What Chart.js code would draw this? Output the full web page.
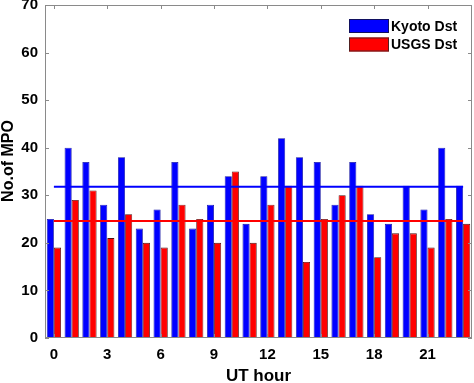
<!DOCTYPE html>
<html>
<head>
<meta charset="utf-8">
<script src="https://cdn.jsdelivr.net/npm/chart.js@4"></script>
<style>
  html, body { margin: 0; padding: 0; background: #fff; }
  #wrap { width: 474px; height: 383px; }
</style>
</head>
<body>
<div id="wrap"><canvas id="c" width="474" height="383"></canvas></div>
<script>
// ---- data ----
const hours = ['0','1','2','3','4','5','6','7','8','9','10','11','12','13','14','15','16','17','18','19','20','21','22','23'];
const xTickLabels = ['0','3','6','9','12','15','18','21'];
const yTicks = [0, 10, 20, 30, 40, 50, 60, 70];
const kyotoDst = [25, 40, 37, 28, 38, 23, 27, 37, 23, 28, 34, 24, 34, 42, 38, 37, 28, 37, 26, 24, 32, 27, 40, 32];
const usgsDst  = [19, 29, 31, 21, 26, 20, 19, 28, 25, 20, 35, 20, 28, 32, 16, 25, 30, 32, 17, 22, 22, 19, 25, 24];
const kyotoMean = 31.8;
const usgsMean = 24.6;
const seriesNames = ['Kyoto Dst', 'USGS Dst'];
const yTitle = 'No.of MPO';
const xTitle = 'UT hour';
// ----------------------------------------------

const FONT = '"Liberation Sans", Arial, sans-serif';
const AXIS_GRAY = '#8a8a8a';
const BLUE = '#0000ff';
const RED = '#ff0000';

const frame = {
  id: 'frame',
  afterDatasetsDraw(chart) {
    const { ctx, chartArea: a, scales: { x, y } } = chart;
    ctx.save();
    ctx.strokeStyle = AXIS_GRAY;
    ctx.lineWidth = 1;
    ctx.strokeRect(Math.round(a.left) + 0.5, Math.round(a.top) + 0.5,
                   Math.round(a.right - a.left) - 1, Math.round(a.bottom - a.top) - 1);
    const tl = 4;
    ctx.beginPath();
    yTicks.forEach(v => {
      const py = Math.round(y.getPixelForValue(v)) + 0.5;
      ctx.moveTo(a.left, py); ctx.lineTo(a.left + tl, py);
      ctx.moveTo(a.right, py); ctx.lineTo(a.right - tl, py);
    });
    xTickLabels.forEach(lbl => {
      const px = Math.round(x.getPixelForValue(hours.indexOf(lbl))) + 0.5;
      ctx.moveTo(px, a.bottom); ctx.lineTo(px, a.bottom - tl);
      ctx.moveTo(px, a.top); ctx.lineTo(px, a.top + tl);
    });
    ctx.stroke();

    // y-axis title (rotated)
    ctx.save();
    ctx.translate(8, 161);
    ctx.rotate(-Math.PI / 2);
    ctx.font = 'bold 16px ' + FONT;
    ctx.fillStyle = '#000';
    ctx.textAlign = 'center';
    ctx.textBaseline = 'middle';
    ctx.fillText(yTitle, 0, 1);
    ctx.restore();

    // legend (inside, top-right)
    const items = [
      { name: seriesNames[0], color: BLUE, edge: '#101060' },
      { name: seriesNames[1], color: RED, edge: '#502020' }
    ];
    ctx.font = 'bold 14px ' + FONT;
    ctx.textBaseline = 'middle';
    ctx.textAlign = 'left';
    items.forEach((it, i) => {
      const cy = 26 + i * 18.5;
      ctx.fillStyle = it.color;
      ctx.fillRect(349, cy - 7, 40, 14);
      ctx.strokeStyle = it.edge;
      ctx.lineWidth = 1;
      ctx.strokeRect(349.5, cy - 6.5, 39, 13);
      ctx.fillStyle = '#000';
      ctx.fillText(it.name, 391, cy + 1);
    });
    ctx.restore();
  }
};

new Chart(document.getElementById('c'), {
  data: {
    labels: hours,
    datasets: [
      {
        type: 'line', label: seriesNames[0] + ' mean',
        data: hours.map(() => kyotoMean),
        borderColor: BLUE, borderWidth: 2, pointRadius: 0, order: 0
      },
      {
        type: 'line', label: seriesNames[1] + ' mean',
        data: hours.map(() => usgsMean),
        borderColor: RED, borderWidth: 2, pointRadius: 0, order: 0
      },
      {
        type: 'bar', label: seriesNames[0], data: kyotoDst,
        backgroundColor: BLUE, borderColor: '#1010a0', borderWidth: 0.8,
        barPercentage: 1.0, categoryPercentage: 0.8, order: 1
      },
      {
        type: 'bar', label: seriesNames[1], data: usgsDst,
        backgroundColor: RED, borderColor: '#4a1010', borderWidth: 0.8,
        barPercentage: 1.0, categoryPercentage: 0.8, order: 1
      }
    ]
  },
  options: {
    responsive: false,
    animation: false,
    devicePixelRatio: 1,
    layout: { padding: { top: 5, right: 2, left: 0, bottom: 0 } },
    plugins: { legend: { display: false }, tooltip: { enabled: false } },
    scales: {
      x: {
        type: 'category',
        offset: true,
        grid: { display: false, drawTicks: false },
        border: { display: false },
        ticks: {
          autoSkip: false, maxRotation: 0, padding: 8,
          color: '#000',
          font: { family: FONT, size: 15, weight: 'bold' },
          callback: (v, i) => xTickLabels.includes(hours[i]) ? hours[i] : ''
        },
        title: {
          display: true, text: xTitle, color: '#000',
          font: { family: FONT, size: 17, weight: 'bold', lineHeight: 1 },
          padding: { top: 0, bottom: -2 }
        },
        afterFit: s => { s.height = 45; s.paddingLeft = 0; s.paddingRight = 0; }
      },
      y: {
        min: 0, max: 70,
        grid: { display: false, drawTicks: false },
        border: { display: false },
        ticks: {
          stepSize: 10, padding: 7, color: '#000',
          font: { family: FONT, size: 15, weight: 'bold' }
        },
        title: { display: false },
        afterFit: s => { s.width = 45; s.paddingTop = 0; s.paddingBottom = 0; }
      }
    }
  },
  plugins: [frame]
});
</script>
</body>
</html>
